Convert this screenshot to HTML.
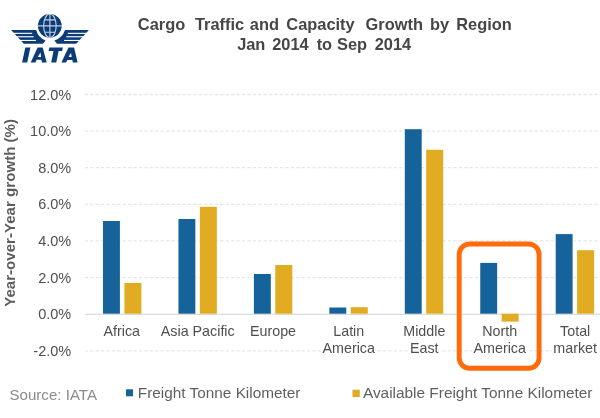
<!DOCTYPE html>
<html><head><meta charset="utf-8">
<style>
html,body{margin:0;padding:0;background:#fff;width:600px;height:418px;overflow:hidden}
svg{display:block;filter:blur(0.35px)}
text{font-family:"Liberation Sans",sans-serif}
</style></head>
<body>
<svg width="600" height="418" viewBox="0 0 600 418">
<rect width="600" height="418" fill="#ffffff"/>
<g id="logo">
  <defs><clipPath id="gc"><circle cx="49.8" cy="25.8" r="11.9"/></clipPath></defs>
  <circle cx="49.8" cy="25.8" r="11.9" fill="#0b3c78"/>
  <defs><clipPath id="ec"><ellipse cx="49.9" cy="25.8" rx="6.3" ry="11.9"/></clipPath></defs>
  <g clip-path="url(#gc)" stroke="#c9d3e6" stroke-width="1.1" fill="none">
    <line x1="49.9" y1="12" x2="49.9" y2="38"/>
    <line x1="36" y1="25.9" x2="64" y2="25.9"/>
    <ellipse cx="49.9" cy="25.8" rx="6.3" ry="11.9"/>
  </g>
  <g clip-path="url(#ec)" stroke="#c9d3e6" stroke-width="1.1" fill="none">
    <line x1="36" y1="19.9" x2="64" y2="19.9"/>
    <line x1="36" y1="32.2" x2="64" y2="32.2"/>
  </g>
  <g fill="#0b3c78">
    <path d="M11.1,30 L36.2,30 Q38.2,37.6 45.6,40.6 L43,43.7 L23.8,43.7 Z"/>
    <path d="M88.9,30 L65.0,30 Q62.6,37.6 54.4,40.6 L57,43.7 L76.2,43.7 Z"/>
  </g>
  <g fill="#ffffff">
    <rect x="8" y="32.8" width="24.2" height="1.1"/>
    <rect x="8" y="36.2" width="25.7" height="1.1"/>
    <rect x="8" y="39.9" width="27.9" height="1.1"/>
    <rect x="67.8" y="32.8" width="24.2" height="1.1"/>
    <rect x="66.3" y="36.2" width="25.7" height="1.1"/>
    <rect x="64.1" y="39.9" width="27.9" height="1.1"/>
  </g>
  <g fill="#0b3c78" fill-rule="evenodd">
    <path d="M25.3,47.4 L30.4,47.4 L27.2,62.4 L22.1,62.4 Z"/>
    <path d="M37.6,47.4 L42.7,47.4 L46.7,62.4 L41.9,62.4 L41.4,59.7 L36.6,59.7 L35.5,62.4 L30.7,62.4 Z M40.5,52.6 L41.1,57 L37.8,57 Z"/>
    <path d="M49.3,47.4 L62.9,47.4 L62.1,50.9 L58.6,50.9 L56.3,62.4 L51.2,62.4 L53.5,50.9 L48.6,50.9 Z"/>
    <path d="M68.5,47.4 L74.1,47.4 L77.6,62.4 L72.8,62.4 L72.4,59.9 L67.3,59.9 L66.1,62.4 L61.4,62.4 Z M71,52.8 L71.7,57.1 L68.6,57.1 Z"/>
  </g>
</g>
<g fill="#464646" font-weight="bold" font-size="16.4" text-anchor="middle">
  <text x="161.5" y="29.8">Cargo</text>
  <text x="219.5" y="29.8">Traffic</text>
  <text x="264.4" y="29.8">and</text>
  <text x="320.5" y="29.8">Capacity</text>
  <text x="394.3" y="29.8">Growth</text>
  <text x="439.5" y="29.8">by</text>
  <text x="484.0" y="29.8">Region</text>
  <text x="251.25" y="49.9">Jan</text>
  <text x="290.4" y="49.9">2014</text>
  <text x="324.4" y="49.9">to</text>
  <text x="352.1" y="49.9">Sep</text>
  <text x="392.9" y="49.9">2014</text>
</g>
<text transform="translate(15.4,306.85) rotate(-90)" font-weight="bold" font-size="15.1" fill="#5e5e5e">Year-over-Year growth (%)</text>
<g stroke="#e7e7e7" stroke-width="1.3" stroke-dasharray="3.4 2.02">
  <line x1="84.7" y1="94.48" x2="600" y2="94.48"/>
  <line x1="84.7" y1="131.10" x2="600" y2="131.10"/>
  <line x1="84.7" y1="167.72" x2="600" y2="167.72"/>
  <line x1="84.7" y1="204.34" x2="600" y2="204.34"/>
  <line x1="84.7" y1="240.96" x2="600" y2="240.96"/>
  <line x1="84.7" y1="277.58" x2="600" y2="277.58"/>
  <line x1="84.7" y1="350.82" x2="600" y2="350.82"/>
</g>
<line x1="85" y1="314.40" x2="600" y2="314.40" stroke="#dcdcdc" stroke-width="1.4"/>
<g fill="#4f4f4f" font-size="14.5" text-anchor="end">
  <text x="71.2" y="99.58">12.0%</text>
  <text x="71.2" y="136.20">10.0%</text>
  <text x="71.2" y="172.82">8.0%</text>
  <text x="71.2" y="209.44">6.0%</text>
  <text x="71.2" y="246.06">4.0%</text>
  <text x="71.2" y="282.68">2.0%</text>
  <text x="71.2" y="319.30">0.0%</text>
  <text x="71.2" y="355.92">-2.0%</text>
</g>
<g fill="#15639a">
  <rect x="103.00" y="221" width="16.9" height="92.70"/>
  <rect x="178.45" y="219" width="16.9" height="94.70"/>
  <rect x="253.90" y="274" width="16.9" height="39.70"/>
  <rect x="329.35" y="307.5" width="16.9" height="6.20"/>
  <rect x="404.80" y="129.2" width="16.9" height="184.50"/>
  <rect x="480.25" y="262.9" width="16.9" height="50.80"/>
  <rect x="555.70" y="234.1" width="16.9" height="79.60"/>
</g>
<g fill="#e2ac22">
  <rect x="124.40" y="283" width="17.0" height="30.70"/>
  <rect x="199.85" y="206.8" width="17.0" height="106.90"/>
  <rect x="275.30" y="265" width="17.0" height="48.70"/>
  <rect x="350.75" y="307.2" width="17.0" height="6.50"/>
  <rect x="426.20" y="149.8" width="17.0" height="163.90"/>
  <rect x="501.65" y="313.7" width="17.0" height="7.90"/>
  <rect x="577.10" y="250.2" width="17.0" height="63.50"/>
</g>
<rect x="321.0" y="349.32" width="55.0" height="3" fill="#fff"/>
<rect x="409.0" y="349.32" width="30.5" height="3" fill="#fff"/>
<rect x="472.5" y="349.32" width="54.5" height="3" fill="#fff"/>
<rect x="552.0" y="349.32" width="47.0" height="3" fill="#fff"/>
<g fill="#4f4f4f" font-size="14.3" text-anchor="middle">
  <text x="121.80" y="336.3">Africa</text>
  <text x="197.75" y="336.3">Asia Pacific</text>
  <text x="273.00" y="336.3">Europe</text>
  <text x="348.75" y="336.3">Latin</text>
  <text x="348.75" y="353.0">America</text>
  <text x="424.30" y="336.3">Middle</text>
  <text x="424.30" y="353.0">East</text>
  <text x="499.75" y="336.3">North</text>
  <text x="499.75" y="353.0">America</text>
  <text x="575.20" y="336.3">Total</text>
  <text x="575.20" y="353.0">market</text>
</g>
<rect x="459.2" y="244.0" width="79.9" height="124.3" rx="10.5" ry="10.5" fill="none" stroke="#ff6a0a" stroke-width="4.9"/>
<text x="53.25" y="399.7" text-anchor="middle" font-size="15.1" fill="#8c8c8c">Source: IATA</text>
<rect x="126" y="389.3" width="7" height="7" fill="#15639a"/>
<text x="219.15" y="397.6" text-anchor="middle" font-size="15.35" fill="#5f5f5f">Freight Tonne Kilometer</text>
<rect x="352.5" y="389.7" width="7.3" height="7.3" fill="#e2ac22"/>
<text x="477.7" y="397.6" text-anchor="middle" font-size="15.4" fill="#5f5f5f">Available Freight Tonne Kilometer</text>
</svg>
</body></html>
